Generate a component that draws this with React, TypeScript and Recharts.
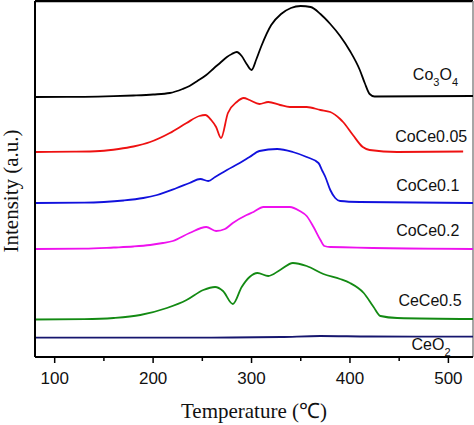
import { LineChart, Line, XAxis, YAxis, ReferenceDot, ReferenceLine } from "recharts";

// temperatures (°C) and intensities (a.u., offset per sample)
const co3o4T = [80, 130, 160, 180, 200, 217, 230, 237, 245, 254, 262, 268, 275, 280, 285, 290, 295, 300, 305, 310, 320, 330, 340, 350, 360, 370, 380, 390, 400, 410, 415, 420, 425, 525];
const co3o4I = [260, 260.2, 260.8, 261.5, 262.5, 264, 268, 271, 276, 282, 289, 294, 300, 303, 305, 301, 293, 287, 298, 311, 332, 343, 349, 351, 350, 343, 333, 321, 306, 287, 274, 263, 260.5, 261];

const coce005T = [80, 120, 146, 165, 180, 197, 217, 234, 247, 253, 259, 264, 269, 276, 285, 292, 298, 308, 317, 329, 339, 356, 370, 380, 390, 393, 403, 413, 420, 448, 515];
const coce005I = [205, 205.3, 206, 208, 210.5, 215, 224, 234, 241, 242, 237, 230, 219, 244, 255, 259, 257, 253, 255, 252, 250, 250, 247, 245, 238, 235, 222, 210, 207, 205, 205.5];

const coce01T = [80, 130, 150, 170, 190, 204, 224, 237, 248, 256, 263, 275, 288, 298, 308, 326, 342, 356, 368, 372, 375, 380, 385, 390, 410, 525];
const coce01I = [154, 154.3, 155, 156.5, 159, 162, 169, 174, 178, 176, 180, 187, 194, 200, 206, 208, 205, 200, 194, 186, 180, 167, 159, 156, 155, 154];

const coce02T = [80, 130, 160, 180, 197, 210, 220, 237, 254, 264, 273, 281, 295, 302, 312, 326, 339, 349, 356, 363, 370, 374, 380, 525];
const coce02I = [108, 108.3, 109.5, 110.5, 112, 114, 116, 124, 130, 126, 128, 134, 142, 145, 150, 150, 150, 146, 141, 130, 117, 111, 110, 108];

const cece05T = [80, 130, 160, 187, 214, 234, 251, 263, 271, 281, 290, 298, 306, 317, 329, 342, 356, 373, 390, 400, 414, 424, 431, 448, 525];
const cece05I = [37.5, 37.8, 39, 42, 49, 57, 67, 70, 66, 53, 70, 80, 84, 81, 87, 94, 91, 83, 78, 74, 64, 50, 41, 39, 38];

const ceo2T = [80, 200, 280, 330, 370, 420, 525];
const ceo2I = [19.3, 19.3, 19.5, 20, 21, 20.5, 20.3];

const xTicks = [100, 150, 200, 250, 300, 350, 400, 450, 500];

// sample names as [text, subscript] pieces, and where they sit (T, intensity)
const names = [
  [["Co", "3"], ["O", "4"]],
  [["CoCe0.05", ""]],
  [["CoCe0.1", ""]],
  [["CoCe0.2", ""]],
  [["CeCe0.5", ""]],
  [["CeO", "2"]],
];
const labelT = [463.9, 445.9, 446.9, 446.9, 449.2, 462.5];
const labelI = [277, 214.7, 166, 121, 51, 7];

const colors = ["#000000", "#ee1111", "#1111dd", "#ee11ee", "#138a13", "#16166e"];

const zip = (t: number[], v: number[]) => t.map((x, i) => ({ t: x, v: v[i] }));

const series = [
  zip(co3o4T, co3o4I),
  zip(coce005T, coce005I),
  zip(coce01T, coce01I),
  zip(coce02T, coce02I),
  zip(cece05T, cece05I),
  zip(ceo2T, ceo2I),
];

const SANS = "'Liberation Sans', Arial, sans-serif";
const SERIF = "'Liberation Serif', 'Times New Roman', serif";

const TempTick = ({ x, y, payload }: any) => {
  const major = payload.value % 100 === 0;
  return (
    <g>
      <line x1={x} x2={x} y1={y} y2={y + (major ? 6 : 4)} stroke="#000" strokeWidth={1.5} />
      {major && (
        <text x={x} y={y + 26.5} textAnchor="middle" fontFamily={SANS} fontSize={17} fill="#111">
          {payload.value}
        </text>
      )}
    </g>
  );
};

const XLabel = ({ viewBox }: any) => (
  <text
    x={viewBox.x + viewBox.width / 2}
    y={viewBox.y + 61}
    textAnchor="middle"
    fontFamily={SERIF}
    fontSize={21}
    fill="#111"
  >
    Temperature (℃)
  </text>
);

const YLabel = ({ viewBox }: any) => {
  const x = viewBox.x + 18;
  const y = viewBox.y + viewBox.height / 2 + 12;
  return (
    <text
      x={x}
      y={y}
      transform={`rotate(-90, ${x}, ${y})`}
      textAnchor="middle"
      fontFamily={SERIF}
      fontSize={21}
      fill="#111"
    >
      Intensity (a.u.)
    </text>
  );
};

const nameLabel = (i: number) => ({ viewBox }: any) => (
  <text x={viewBox.x} y={viewBox.y} fontFamily={SANS} fontSize={16} fill="#111">
    {names[i].map(([main, sub], k) => {
      const prevSub = k > 0 && names[i][k - 1][1];
      return [
        <tspan key={`m${k}`} dy={prevSub ? -6 : 0}>
          {main}
        </tspan>,
        sub ? (
          <tspan key={`s${k}`} dy={6} fontSize={11}>
            {sub}
          </tspan>
        ) : null,
      ];
    })}
  </text>
);

export default function App() {
  return (
    <div style={{ position: "absolute", left: 0, top: 0, background: "#fff" }}>
      <LineChart width={474} height={425} margin={{ top: 1, right: 1, bottom: 0, left: 0 }}>
        <XAxis
          dataKey="t"
          type="number"
          domain={[80, 525]}
          ticks={xTicks}
          interval={0}
          allowDataOverflow
          height={68}
          tickSize={0}
          tickMargin={0}
          tickLine={false}
          tick={<TempTick />}
          axisLine={{ stroke: "#000", strokeWidth: 2 }}
          label={XLabel}
        />
        <YAxis
          type="number"
          domain={[0, 356]}
          allowDataOverflow
          width={35}
          tick={false}
          tickLine={false}
          axisLine={{ stroke: "#000", strokeWidth: 2 }}
          label={YLabel}
        />
        <ReferenceLine y={356} stroke="#000" strokeWidth={2.5} />
        <ReferenceLine x={525} stroke="#888" strokeWidth={1.5} />
        {series.map((d, i) => (
          <Line
            key={i}
            data={d}
            dataKey="v"
            type="monotone"
            stroke={colors[i]}
            strokeWidth={1.8}
            dot={false}
            isAnimationActive={false}
          />
        ))}
        {names.map((_, i) => (
          <ReferenceDot
            key={`n${i}`}
            x={labelT[i]}
            y={labelI[i]}
            r={0}
            fill="none"
            stroke="none"
            ifOverflow="visible"
            label={nameLabel(i)}
          />
        ))}
      </LineChart>
    </div>
  );
}
